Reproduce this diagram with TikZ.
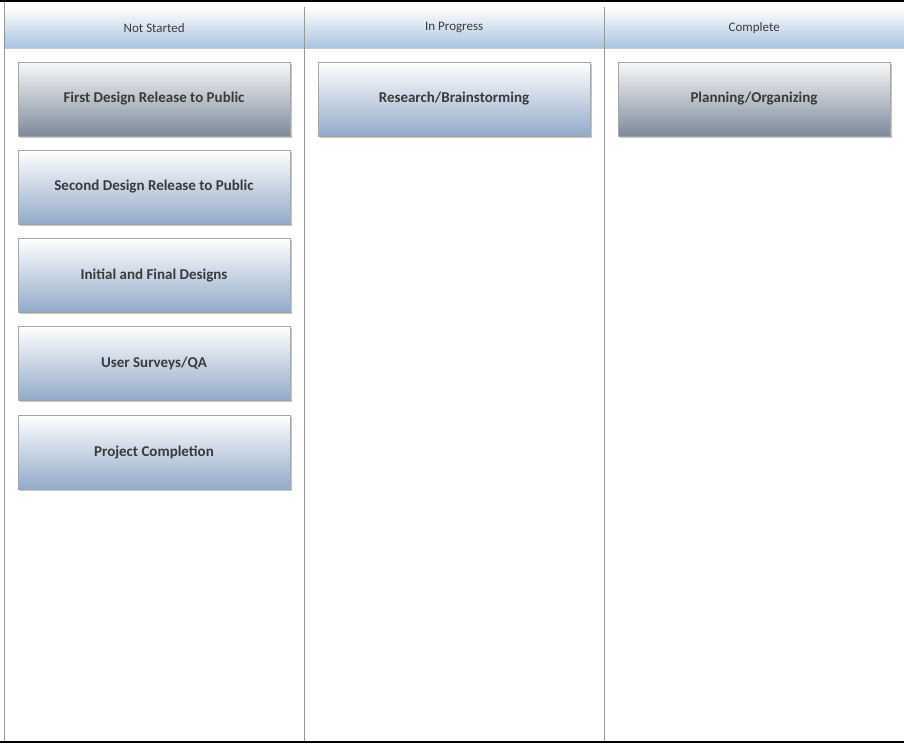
\documentclass[tikz,border=0pt]{standalone}
\usepackage{fontspec}
\setmainfont{Carlito}
\usetikzlibrary{shadows}
\definecolor{hdr}{HTML}{A9C3E0}
\definecolor{bluecard}{HTML}{92AACA}
\definecolor{graycard}{HTML}{7D8A9A}
\definecolor{txt}{HTML}{3A3A3A}
\tikzset{
  card/.style={minimum width=272pt, minimum height=74pt, draw=gray!70, line width=0.6pt,
    drop shadow={shadow xshift=2pt, shadow yshift=-2pt, opacity=0.45}, font=\bfseries\fontsize{15}{18}\selectfont, text=txt},
  bcard/.style={card, top color=white, bottom color=bluecard},
  gcard/.style={card, top color=white!95!gray, bottom color=graycard},
  head/.style={minimum width=300pt, minimum height=41pt, inner sep=0pt, top color=white, bottom color=hdr, font=\fontsize{13}{16}\selectfont, text=txt}
}
\begin{document}
\begin{tikzpicture}[x=1pt,y=-1pt]
\useasboundingbox (0,0) rectangle (904,744);
\fill[white] (0,0) rectangle (904,744);
\node[head, anchor=north west] (h1) at (4,7) {Not Started};
\node[head, anchor=north west] (h2) at (304,7) {In Progress};
\node[head, anchor=north west] (h3) at (604,7) {Complete};
\draw[gray!40, line width=0.8pt] (4,48) -- (904,48);
\draw[gray!80, line width=0.8pt] (4,1) -- (4,742);
\draw[gray!80, line width=0.8pt] (304,7) -- (304,742);
\draw[gray!80, line width=0.8pt] (604,7) -- (604,742);
\draw[black, line width=1.5pt] (0,1) -- (904,1);
\draw[black, line width=1.5pt] (0,742) -- (904,742);
\node[gcard] (c1) at (154,99) {First Design Release to Public};
\node[bcard] (c2) at (154,187) {Second Design Release to Public};
\node[bcard] (c3) at (154,275) {Initial and Final Designs};
\node[bcard] (c4) at (154,363) {User Surveys/QA};
\node[bcard] (c5) at (154,452) {Project Completion};
\node[bcard] (c6) at (454,99) {Research/Brainstorming};
\node[gcard] (c7) at (754,99) {Planning/Organizing};
\end{tikzpicture}
\end{document}
